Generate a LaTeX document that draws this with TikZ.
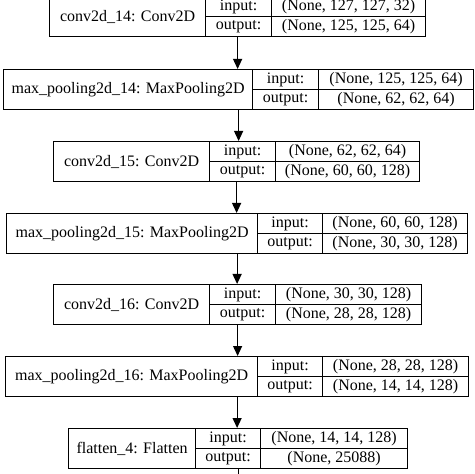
\documentclass[tikz,border=0pt]{standalone}
\usepackage{fontspec}
\setmainfont{Liberation Serif}
\usetikzlibrary{arrows.meta}

\begin{document}
\begin{tikzpicture}[x=0.5pt, y=-0.5pt, >={Triangle[length=5pt, width=4.5pt]},
    line width=0.6pt,
    cell/.style={draw, inner sep=0pt, anchor=north west, font=\fontsize{8}{9}\selectfont},
    frame/.style={draw, inner sep=0pt, anchor=north west, minimum height=20pt}]

    % --- the page, 474 x 474 px
    \clip (0, 0) rectangle (474, 474);

    % --- one layer per row: top, the four x edges, name, input shape, output shape
    \foreach \n/\ytop/\xa/\xb/\xc/\xd/\lbl/\shin/\shout in {
        1/-4/49/205/271/425/{conv2d\_14: Conv2D}/{(None, 127, 127, 32)}/{(None, 125, 125, 64)},
        2/69/3/252/318/473/{max\_pooling2d\_14: MaxPooling2D}/{(None, 125, 125, 64)}/{(None, 62, 62, 64)},
        3/141/53/209/275/419/{conv2d\_15: Conv2D}/{(None, 62, 62, 64)}/{(None, 60, 60, 128)},
        4/213/6/257/322/467/{max\_pooling2d\_15: MaxPooling2D}/{(None, 60, 60, 128)}/{(None, 30, 30, 128)},
        5/284/53/209/275/421/{conv2d\_16: Conv2D}/{(None, 30, 30, 128)}/{(None, 28, 28, 128)},
        6/356/5/257/322/468/{max\_pooling2d\_16: MaxPooling2D}/{(None, 28, 28, 128)}/{(None, 14, 14, 128)},
        7/428/68/195/260/407/{flatten\_4: Flatten}/{(None, 14, 14, 128)}/{(None, 25088)}} {
      \node[frame, minimum width={(\xd-\xa)*0.5pt}] (L\n) at (\xa, \ytop) {};
      \node[cell, minimum width={(\xb-\xa)*0.5pt}, minimum height=20pt] (L\n-name) at (\xa, \ytop) {\lbl};
      \node[cell, minimum width={(\xc-\xb)*0.5pt}, minimum height=10pt] (L\n-inkey) at (\xb, \ytop) {input:};
      \node[cell, minimum width={(\xc-\xb)*0.5pt}, minimum height=10pt] (L\n-outkey) at (\xb, {\ytop+20}) {output:};
      \node[cell, minimum width={(\xd-\xc)*0.5pt}, minimum height=10pt] (L\n-in) at (\xc, \ytop) {\shin};
      \node[cell, minimum width={(\xd-\xc)*0.5pt}, minimum height=10pt] (L\n-out) at (\xc, {\ytop+20}) {\shout};
    }

    % --- the arrows between the layers
    \foreach \i [evaluate=\i as \j using int(\i+1)] in {1,...,6} {
      \draw[->] (L\i.south) -- (L\i.south |- L\j.north);
    }
    \coordinate (cont) at (237, 490);
    \draw (L7.south) -- (L7.south |- cont);
  \end{tikzpicture}
\end{document}
